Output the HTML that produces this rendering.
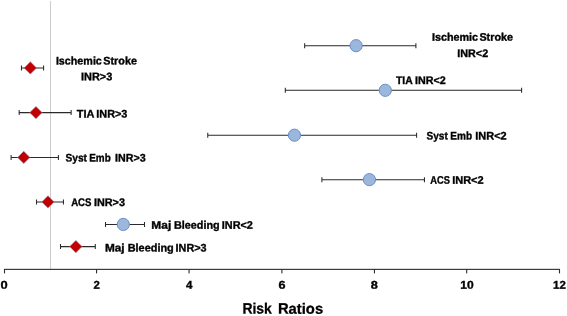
<!DOCTYPE html>
<html lang="en">
<head>
<meta charset="utf-8">
<title>Risk Ratios</title>
<style>
html,body{margin:0;padding:0;background:#fff;}
body{width:567px;height:316px;overflow:hidden;}
svg{display:block;}
text{font-family:"Liberation Sans",sans-serif;font-weight:bold;fill:#000;stroke:#000;stroke-width:0.35px;}
.lbl{font-size:11.0px;}
.tick{font-size:11.3px;}
.title{font-size:14.9px;stroke-width:0.28px;}
.bar{stroke:#2a2a2a;stroke-width:1.05;fill:none;}
.dia{fill:#c00000;stroke:#9a7f9f;stroke-width:0.6;}
.cir{fill:#9bb7dc;stroke:#6b8fc8;stroke-width:1;}
</style>
</head>
<body>
<svg width="567" height="316" viewBox="0 0 567 316">
<rect x="0" y="0" width="567" height="316" fill="#ffffff"/>

<rect x="50" y="1" width="1" height="268" fill="#cdcdcd"/>
<rect x="4" y="268.8" width="556" height="1.2" fill="#3c3c3c"/>
<rect x="3.95" y="269" width="1.1" height="4.4" fill="#2e2e2e"/>
<rect x="96.00" y="269" width="1.1" height="4.4" fill="#2e2e2e"/>
<rect x="188.50" y="269" width="1.1" height="4.4" fill="#2e2e2e"/>
<rect x="281.35" y="269" width="1.1" height="4.4" fill="#2e2e2e"/>
<rect x="373.90" y="269" width="1.1" height="4.4" fill="#2e2e2e"/>
<rect x="466.15" y="269" width="1.1" height="4.4" fill="#2e2e2e"/>
<rect x="558.95" y="269" width="1.1" height="4.4" fill="#2e2e2e"/>
<path class="bar" d="M21.45 67.95H43.60M21.45 65.45v5M43.60 65.45v5"/>
<path class="dia" d="M30.35 61.80L36.50 67.95L30.35 74.10L24.20 67.95Z"/>
<path class="bar" d="M19.15 112.60H71.15M19.15 110.10v5M71.15 110.10v5"/>
<path class="dia" d="M35.95 106.45L42.10 112.60L35.95 118.75L29.80 112.60Z"/>
<path class="bar" d="M11.10 157.40H58.40M11.10 154.90v5M58.40 154.90v5"/>
<path class="dia" d="M23.75 151.25L29.90 157.40L23.75 163.55L17.60 157.40Z"/>
<path class="bar" d="M36.50 201.90H63.45M36.50 199.40v5M63.45 199.40v5"/>
<path class="dia" d="M47.95 195.75L54.10 201.90L47.95 208.05L41.80 201.90Z"/>
<path class="bar" d="M60.50 246.60H95.30M60.50 244.10v5M95.30 244.10v5"/>
<path class="dia" d="M75.85 240.45L82.00 246.60L75.85 252.75L69.70 246.60Z"/>
<path class="bar" d="M304.65 45.70H415.90M304.65 43.20v5M415.90 43.20v5"/>
<circle class="cir" cx="356.10" cy="45.70" r="6.1"/>
<path class="bar" d="M285.30 90.30H521.60M285.30 87.80v5M521.60 87.80v5"/>
<circle class="cir" cx="385.30" cy="90.30" r="6.1"/>
<path class="bar" d="M207.75 135.20H416.60M207.75 132.70v5M416.60 132.70v5"/>
<circle class="cir" cx="294.45" cy="135.20" r="6.1"/>
<path class="bar" d="M321.90 179.65H424.45M321.90 177.15v5M424.45 177.15v5"/>
<circle class="cir" cx="369.45" cy="179.65" r="6.1"/>
<path class="bar" d="M105.50 224.45H144.50M105.50 221.95v5M144.50 221.95v5"/>
<circle class="cir" cx="123.30" cy="224.45" r="6.1"/>
<text class="lbl" transform="rotate(0.05 56.4 64.5)"><tspan x="55.88" y="64.5" textLength="45.98" lengthAdjust="spacingAndGlyphs">Ischemic</tspan> <tspan x="103.34" y="64.5" textLength="33.58" lengthAdjust="spacingAndGlyphs">Stroke</tspan> <tspan x="81.04" y="80.2" textLength="31.22" lengthAdjust="spacingAndGlyphs">INR&gt;3</tspan></text>
<text class="lbl" transform="rotate(0.05 76.5 117.5)"><tspan x="76.71" y="117.5" textLength="17.22" lengthAdjust="spacingAndGlyphs">TIA</tspan> <tspan x="96.30" y="117.5" textLength="31.12" lengthAdjust="spacingAndGlyphs">INR&gt;3</tspan></text>
<text class="lbl" transform="rotate(0.05 65.9 161.4)"><tspan x="65.44" y="161.4" textLength="21.55" lengthAdjust="spacingAndGlyphs">Syst</tspan> <tspan x="89.21" y="161.4" textLength="21.51" lengthAdjust="spacingAndGlyphs">Emb</tspan> <tspan x="115.05" y="161.4" textLength="30.59" lengthAdjust="spacingAndGlyphs">INR&gt;3</tspan></text>
<text class="lbl" transform="rotate(0.05 71.4 206.0)"><tspan x="71.16" y="206.0" textLength="20.36" lengthAdjust="spacingAndGlyphs">ACS</tspan> <tspan x="93.94" y="206.0" textLength="30.98" lengthAdjust="spacingAndGlyphs">INR&gt;3</tspan></text>
<text class="lbl" transform="rotate(0.05 105.4 251.4)"><tspan x="104.93" y="251.4" textLength="19.73" lengthAdjust="spacingAndGlyphs">Maj</tspan> <tspan x="127.66" y="251.4" textLength="46.14" lengthAdjust="spacingAndGlyphs">Bleeding</tspan> <tspan x="175.58" y="251.4" textLength="30.96" lengthAdjust="spacingAndGlyphs">INR&gt;3</tspan></text>
<text class="lbl" transform="rotate(0.05 151.9 228.7)"><tspan x="151.34" y="228.7" textLength="19.89" lengthAdjust="spacingAndGlyphs">Maj</tspan> <tspan x="173.93" y="228.7" textLength="45.77" lengthAdjust="spacingAndGlyphs">Bleeding</tspan> <tspan x="221.81" y="228.7" textLength="31.12" lengthAdjust="spacingAndGlyphs">INR&lt;2</tspan></text>
<text class="lbl" transform="rotate(0.05 432.4 40.8)"><tspan x="431.89" y="40.8" textLength="46.24" lengthAdjust="spacingAndGlyphs">Ischemic</tspan> <tspan x="479.41" y="40.8" textLength="33.61" lengthAdjust="spacingAndGlyphs">Stroke</tspan> <tspan x="457.32" y="57.0" textLength="30.83" lengthAdjust="spacingAndGlyphs">INR&lt;2</tspan></text>
<text class="lbl" transform="rotate(0.05 396.1 83.9)"><tspan x="396.04" y="83.9" textLength="16.34" lengthAdjust="spacingAndGlyphs">TIA</tspan> <tspan x="414.97" y="83.9" textLength="30.78" lengthAdjust="spacingAndGlyphs">INR&lt;2</tspan></text>
<text class="lbl" transform="rotate(0.05 426.8 139.4)"><tspan x="426.45" y="139.4" textLength="21.31" lengthAdjust="spacingAndGlyphs">Syst</tspan> <tspan x="450.31" y="139.4" textLength="21.72" lengthAdjust="spacingAndGlyphs">Emb</tspan> <tspan x="475.34" y="139.4" textLength="31.39" lengthAdjust="spacingAndGlyphs">INR&lt;2</tspan></text>
<text class="lbl" transform="rotate(0.05 430.3 183.7)"><tspan x="430.26" y="183.7" textLength="19.61" lengthAdjust="spacingAndGlyphs">ACS</tspan> <tspan x="452.15" y="183.7" textLength="31.52" lengthAdjust="spacingAndGlyphs">INR&lt;2</tspan></text>
<text class="tick" transform="rotate(0.05 0.9 288.7)"><tspan x="0.61" y="288.7" textLength="7.18" lengthAdjust="spacingAndGlyphs">0</tspan></text>
<text class="tick" transform="rotate(0.05 93.8 288.7)"><tspan x="93.64" y="288.7" textLength="6.33" lengthAdjust="spacingAndGlyphs">2</tspan></text>
<text class="tick" transform="rotate(0.05 186.1 288.7)"><tspan x="186.13" y="288.7" textLength="6.46" lengthAdjust="spacingAndGlyphs">4</tspan></text>
<text class="tick" transform="rotate(0.05 278.9 288.7)"><tspan x="278.64" y="288.7" textLength="7.01" lengthAdjust="spacingAndGlyphs">6</tspan></text>
<text class="tick" transform="rotate(0.05 371.1 288.7)"><tspan x="370.89" y="288.7" textLength="7.06" lengthAdjust="spacingAndGlyphs">8</tspan></text>
<text class="tick" transform="rotate(0.05 460.9 288.7)"><tspan x="460.36" y="288.7" textLength="13.42" lengthAdjust="spacingAndGlyphs">10</tspan></text>
<text class="tick" transform="rotate(0.05 553.5 288.7)"><tspan x="553.02" y="288.7" textLength="12.76" lengthAdjust="spacingAndGlyphs">12</tspan></text>
<text class="title" transform="rotate(0.05 243.2 313.6)"><tspan x="242.38" y="313.6" textLength="29.48" lengthAdjust="spacingAndGlyphs">Risk</tspan> <tspan x="277.92" y="313.6" textLength="45.22" lengthAdjust="spacingAndGlyphs">Ratios</tspan></text>
</svg>
</body>
</html>
